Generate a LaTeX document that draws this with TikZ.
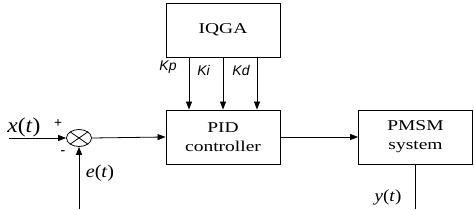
\documentclass[tikz,border=0pt]{standalone}
\usepackage{fontspec}
\setmainfont{Liberation Serif}
\setsansfont{Liberation Sans}
\usetikzlibrary{arrows.meta,shapes.geometric,calc}
\newcommand{\sxa}[1]{\scalebox{1.3}[1]{#1}}
\newcommand{\sxb}[1]{\scalebox{1.12}[1]{#1}}
\begin{document}
\begin{tikzpicture}[x=1pt,y=-1pt,
  blk/.style={draw,line width=0.9pt,minimum width=114pt,minimum height=54pt,inner sep=0pt,align=center,font=\fontsize{15}{19}\selectfont},
  arr/.style={line width=0.8pt,-{Triangle[length=8pt,width=6pt]}},
  ln/.style={line width=0.8pt},
  klab/.style={font=\fontsize{14}{15}\sffamily\itshape,inner sep=0pt},
  sig/.style={inner sep=0pt}]
\useasboundingbox (0,0) rectangle (474,209);
\node[blk] (iqga) at (223,30) {\sxa{IQGA}};
\node[blk] (pid) at (223,137) {\sxa{PID}\\\sxa{controller}};
\node[blk] (pmsm) at (415.5,137) {\sxa{PMSM}\\\sxa{system}};
\node[draw,ellipse,line width=0.8pt,minimum width=25pt,minimum height=17pt,inner sep=0pt] (sum) at (79,138) {};
\draw[ln] (sum.north east) -- (sum.south west);
\draw[ln] (sum.north west) -- (sum.south east);
\coordinate (in) at (9,138);
\coordinate (fb) at (79,209);
\coordinate (out) at (415,209);
\draw[arr] (in) -- (sum.west);
\draw[arr] (fb) -- (sum.south);
\draw[arr] (sum.east) -- (pid.west);
\draw[arr] (pid.east) -- (pmsm.west);
\draw[ln] (pmsm.south -| out) -- (out);
\foreach \d in {-34,0,34}
  \draw[arr] ($(iqga.south)+(\d,0)$) -- ($(pid.north)+(\d,0)$);
\node[klab] (kp) at (168,67) {Kp};
\node[klab] (ki) at (203.5,70) {Ki};
\node[klab] (kd) at (241,70) {Kd};
\node[sig,font=\fontsize{21}{22}\selectfont] (xt) at (24,127) {\sxb{\textit{x}(\textit{t})}};
\node[sig,font=\fontsize{14}{15}\selectfont\bfseries] (plus) at (58,124) {+};
\node[sig,font=\fontsize{14}{15}\selectfont\bfseries] (minus) at (63,153) {-};
\node[sig,font=\fontsize{18}{19}\selectfont] (et) at (100,173) {\sxb{\textit{e}(\textit{t})}};
\node[sig,font=\fontsize{17}{18}\selectfont] (yt) at (388,197) {\sxb{\textit{y}(\textit{t})}};
\end{tikzpicture}
\end{document}
